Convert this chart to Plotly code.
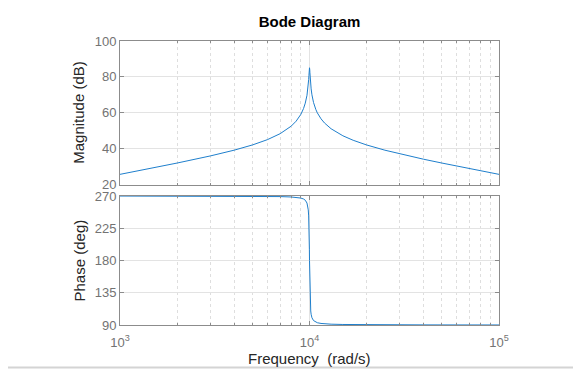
import plotly.graph_objects as go

# Data
freq = [1000, 1500, 2000, 3000, 4000, 5000, 6000, 7000, 8000, 8500,
        9000, 9300, 9500, 9700, 9800, 9850, 9900, 9930, 9950, 9970,
        9985, 10000, 10015, 10030, 10050, 10070, 10100, 10150, 10200, 10300,
        10500, 10800, 11000, 11500, 12000, 13000, 15000, 17000, 20000, 25000,
        30000, 40000, 50000, 60000, 70000, 80000, 90000, 100000]
magnitude_db = [25.66, 29.29, 31.95, 35.94, 39.13, 42.05, 45.01, 48.33, 52.51, 55.30,
                59.08, 62.33, 65.35, 69.75, 73.15, 75.47, 78.45, 80.67, 82.29, 83.86,
                84.74, 85.07, 84.74, 83.87, 82.31, 80.70, 78.51, 75.58, 73.32, 70.00,
                65.73, 61.80, 59.94, 56.62, 54.29, 51.08, 47.16, 44.65, 42.05, 39.13,
                37.05, 34.09, 31.95, 30.26, 28.85, 27.65, 26.60, 25.66]
phase_deg = [269.94, 269.91, 269.87, 269.80, 269.71, 269.60, 269.43, 269.17, 268.65, 268.14,
             267.13, 265.83, 264.10, 260.13, 255.30, 250.68, 242.20, 232.97, 223.40, 209.55,
             195.81, 180.00, 164.17, 150.53, 136.74, 127.23, 118.04, 109.59, 104.98, 100.16,
             96.20, 93.94, 93.18, 92.16, 91.66, 91.14, 90.73, 90.55, 90.40, 90.29,
             90.23, 90.16, 90.13, 90.10, 90.09, 90.08, 90.07, 90.06]

x_ticks = [1000, 10000, 100000]
x_tick_labels = ["10<sup>3</sup>", "10<sup>4</sup>", "10<sup>5</sup>"]
mag_ticks = [20, 40, 60, 80, 100]
phase_ticks = [90, 135, 180, 225, 270]
minor_x = [m * d for d in (1000, 10000) for m in range(2, 10)]

# page body has an 8px margin, so the figure is 8px smaller than the window
OFF = 8
W, H = 581 - OFF, 370 - OFF
L, R, T, B = 120 - OFF, 82, 41 - OFF, 45
ph = H - T - B
pw = W - L - R
top_lo = (325 - 184.5) / ph
bot_hi = (325 - 196) / ph

line_color = "#1f7fcc"
frame = "#8c8c8c"
tick_font = dict(family="Liberation Sans, Arial, sans-serif", size=13, color="#737373")
label_font = dict(family="Liberation Sans, Arial, sans-serif", size=15, color="#262626")

fig = go.Figure()
fig.add_trace(go.Scatter(x=freq, y=magnitude_db, mode="lines",
                         line=dict(color=line_color, width=1), xaxis="x", yaxis="y",
                         showlegend=False, hoverinfo="skip"))
fig.add_trace(go.Scatter(x=freq, y=phase_deg, mode="lines",
                         line=dict(color=line_color, width=1), xaxis="x2", yaxis="y2",
                         showlegend=False, hoverinfo="skip"))

common_x = dict(type="log", range=[3, 5], showline=True, linecolor=frame, linewidth=1,
                mirror="ticks", ticks="inside", ticklen=4, tickcolor=frame,
                showgrid=True, gridcolor="#e3e3e3", gridwidth=1,
                tickmode="array", tickvals=x_ticks, zeroline=False,
                minor=dict(tickmode="array", tickvals=minor_x, ticks="inside", ticklen=2,
                           tickcolor=frame, showgrid=True, gridcolor="#dedede",
                           griddash="dot", gridwidth=1))
common_y = dict(showline=True, linecolor=frame, linewidth=1, mirror="ticks",
                ticks="inside", ticklen=4, tickcolor=frame, showgrid=True,
                gridcolor="#e3e3e3", gridwidth=1, zeroline=False, tickmode="array",
                tickfont=tick_font)

fig.update_layout(
    width=W, height=H,
    margin=dict(l=L, r=R, t=T, b=B, pad=0),
    paper_bgcolor="white", plot_bgcolor="white",
    xaxis=dict(common_x, domain=[0, 1], anchor="y", showticklabels=False),
    yaxis=dict(common_y, domain=[top_lo, 1], anchor="x", range=[20, 100], tickvals=mag_ticks),
    xaxis2=dict(common_x, domain=[0, 1], anchor="y2", ticktext=x_tick_labels,
                tickfont=tick_font, showticklabels=True, ticklabelstandoff=5),
    yaxis2=dict(common_y, domain=[0, bot_hi], anchor="x2", range=[90, 270], tickvals=phase_ticks),
    title=dict(text="<b>Bode Diagram</b>", x=(L + pw / 2) / W, xanchor="center",
               y=1 - (22 - OFF) / H, yanchor="middle",
               font=dict(family="Liberation Sans, Arial, sans-serif", size=15, color="black")),
)

label_x = (79 - 120) / pw
fig.add_annotation(text="Magnitude (dB)", xref="paper", yref="paper",
                   x=label_x, y=(top_lo + 1) / 2, textangle=-90,
                   showarrow=False, font=label_font, xanchor="center", yanchor="middle")
fig.add_annotation(text="Phase (deg)", xref="paper", yref="paper",
                   x=label_x, y=bot_hi / 2, textangle=-90,
                   showarrow=False, font=label_font, xanchor="center", yanchor="middle")
fig.add_annotation(text="Frequency  (rad/s)", xref="paper", yref="paper",
                   x=0.5, y=(325 - 358) / ph, showarrow=False, font=label_font,
                   xanchor="center", yanchor="middle")

# window border line at the bottom of the screenshot
fig.add_shape(type="line", xref="paper", yref="paper", x0=-L / pw, x1=1 + R / pw,
              y0=(325 - 367.5) / ph, y1=(325 - 367.5) / ph, line=dict(color="#d4d4d4", width=2))

fig.write_html("out.html")
